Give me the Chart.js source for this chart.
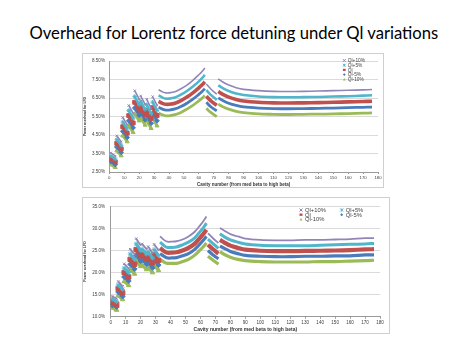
<!DOCTYPE html>
<html><head><meta charset="utf-8">
<script src="https://cdn.jsdelivr.net/npm/chart.js@4.4.0/dist/chart.umd.min.js"></script>
<style>
html,body{margin:0;padding:0;background:#fff;width:474px;height:355px;overflow:hidden;position:relative;}
#title{position:absolute;left:29.5px;top:22px;display:inline-block;white-space:nowrap;font-family:Lato,'Open Sans',sans-serif;font-size:17px;line-height:1;color:#000;}
#bl{display:inline-block;width:0;height:0;}
.frame{position:absolute;border:1px solid #cfcfcf;box-sizing:border-box;background:#fff;}
canvas{position:absolute;}
</style></head><body>
<div id="title">Overhead for Lorentz force detuning under Ql variations<span id="bl"></span></div>
<div class="frame" style="left:82px;top:53px;width:302px;height:135px"></div>
<canvas id="c1" width="300" height="133" style="left:83px;top:54px"></canvas>
<div class="frame" style="left:82px;top:197px;width:308px;height:137px"></div>
<canvas id="c2" width="306" height="135" style="left:83px;top:198px"></canvas>
<script>
// ---- data ----
const seriesNames = ['Ql+10%', 'Ql+5%', 'Ql', 'Ql-5%', 'Ql-10%'];
// cavity numbers (null values in series mark breaks between cavity groups)
const cavity = [1,4,4, 5,8,8, 9,12,12, 13,16,16, 17,20,20, 21,24,24, 25,28,28, 29,32,32,
  33,36,38,40,44,48,52,56,60,62,64,64,
  65,68,72,72,
  73,76,80,85,90,100,110,120,130,140,150,160,170,176];

// Chart 1 (top) values in %
const top_QlP10 = [3.54,3.36,null, 4.46,4.13,null, 5.45,5.06,null, 6.1,5.67,null, 6.9,6.44,null, 6.62,6.16,null, 6.44,5.94,null, 6.58,6.1,null,
  6.95,6.82,6.78,6.78,6.84,7.0,7.2,7.46,7.76,7.92,8.12,null,
  7.26,6.99,6.71,null,
  7.54,7.37,7.2,7.06,6.97,6.9,6.86,6.85,6.86,6.88,6.9,6.92,6.94,6.96];
const top_QlP5 = [3.38,3.2,null, 4.25,3.94,null, 5.2,4.83,null, 5.83,5.41,null, 6.58,6.14,null, 6.32,5.88,null, 6.14,5.67,null, 6.28,5.83,null,
  6.64,6.51,6.47,6.47,6.53,6.68,6.88,7.12,7.4,7.56,7.75,null,
  6.93,6.67,6.4,null,
  7.19,7.04,6.88,6.74,6.66,6.58,6.55,6.54,6.55,6.56,6.58,6.6,6.63,6.65];
const top_Ql = [3.22,3.05,null, 4.05,3.75,null, 4.95,4.6,null, 5.55,5.15,null, 6.27,5.85,null, 6.02,5.6,null, 5.85,5.4,null, 5.98,5.55,null,
  6.32,6.2,6.16,6.16,6.22,6.36,6.55,6.78,7.05,7.2,7.38,null,
  6.6,6.35,6.1,null,
  6.85,6.7,6.55,6.42,6.34,6.27,6.24,6.23,6.24,6.25,6.27,6.29,6.31,6.33];
const top_QlM5 = [3.06,2.9,null, 3.85,3.56,null, 4.7,4.37,null, 5.27,4.89,null, 5.96,5.56,null, 5.72,5.32,null, 5.56,5.13,null, 5.68,5.27,null,
  6.0,5.89,5.85,5.85,5.91,6.04,6.22,6.44,6.7,6.84,7.01,null,
  6.27,6.03,5.8,null,
  6.51,6.37,6.22,6.1,6.02,5.96,5.93,5.92,5.93,5.94,5.96,5.98,6.0,6.01];
const top_QlM10 = [2.9,2.75,null, 3.65,3.38,null, 4.46,4.14,null, 5.0,4.64,null, 5.64,5.27,null, 5.42,5.04,null, 5.27,4.86,null, 5.38,5.0,null,
  5.69,5.58,5.54,5.54,5.6,5.72,5.9,6.1,6.35,6.48,6.64,null,
  5.94,5.72,5.49,null,
  6.17,6.03,5.9,5.78,5.71,5.64,5.62,5.61,5.62,5.63,5.64,5.66,5.68,5.7];

// Chart 2 (bottom) values in %
const bot_QlP10 = [14.6,14.1,null, 18.0,16.9,null, 22.0,20.9,null, 25.3,24.1,null, 27.7,26.2,null, 26.5,25.3,null, 25.9,24.4,null, 26.4,25.1,null,
  28.2,27.3,27.0,27.0,27.1,27.5,28.2,29.2,30.8,31.7,32.7,null,
  28.9,27.9,26.7,null,
  30.1,29.5,28.7,28.2,27.7,27.4,27.3,27.3,27.4,27.4,27.5,27.6,27.8,27.8];
const bot_QlP5 = [14.0,13.4,null, 17.2,16.2,null, 21.0,20.0,null, 24.2,23.0,null, 26.5,25.0,null, 25.3,24.2,null, 24.7,23.3,null, 25.2,23.9,null,
  26.9,26.0,25.7,25.7,25.8,26.3,26.9,27.8,29.4,30.2,31.2,null,
  27.6,26.7,25.5,null,
  28.8,28.1,27.4,26.9,26.5,26.2,26.1,26.1,26.1,26.2,26.3,26.4,26.5,26.6];
const bot_Ql = [13.3,12.8,null, 16.4,15.4,null, 20.0,19.0,null, 23.0,21.9,null, 25.2,23.8,null, 24.1,23.0,null, 23.5,22.2,null, 24.0,22.8,null,
  25.6,24.8,24.5,24.5,24.6,25.0,25.6,26.5,28.0,28.8,29.7,null,
  26.3,25.4,24.3,null,
  27.4,26.8,26.1,25.6,25.2,24.95,24.85,24.85,24.9,24.95,25.0,25.1,25.25,25.3];
const bot_QlM5 = [12.6,12.2,null, 15.6,14.6,null, 19.0,18.1,null, 21.9,20.8,null, 23.9,22.6,null, 22.9,21.9,null, 22.3,21.1,null, 22.8,21.7,null,
  24.3,23.6,23.3,23.3,23.4,23.8,24.3,25.2,26.6,27.4,28.2,null,
  25.0,24.1,23.1,null,
  26.0,25.5,24.8,24.3,23.9,23.7,23.6,23.6,23.7,23.7,23.8,23.8,24.0,24.0];
const bot_QlM10 = [12.0,11.5,null, 14.8,13.9,null, 18.0,17.1,null, 20.7,19.7,null, 22.7,21.4,null, 21.7,20.7,null, 21.2,20.0,null, 21.6,20.5,null,
  23.0,22.3,22.1,22.1,22.1,22.5,23.0,23.9,25.2,25.9,26.7,null,
  23.7,22.9,21.9,null,
  24.7,24.1,23.5,23.0,22.7,22.5,22.4,22.4,22.4,22.5,22.5,22.6,22.7,22.8];

const xAxisTitle = 'Cavity number (from med beta to high beta)';
const yAxisTitle = 'Power overhead for LFD';

// ---- styles ----
const colors = ['#9384b8', '#4fb6cc', '#c0504d', '#4a7cbc', '#9bbb59'];
const pStyles = ['crossRot', 'star', 'rect', 'rectRot', 'triangle'];

// title fit
(function(){
  const t = document.getElementById('title');
  const w = t.getBoundingClientRect().width;
  const fs = 17 * 409 / w;
  t.style.fontSize = fs + 'px';
  const b = document.getElementById('bl').getBoundingClientRect().top;
  const top = t.getBoundingClientRect().top;
  t.style.top = (top + (39 - b)) + 'px';
})();

function drawMarker(ctx, style, x, y, r, color) {
  ctx.save();
  ctx.strokeStyle = color; ctx.fillStyle = color; ctx.lineWidth = 1;
  ctx.beginPath();
  if (style === 'rect') { ctx.fillRect(x - r, y - r * 0.8, 2 * r, 1.6 * r); }
  else if (style === 'rectRot') { ctx.moveTo(x, y - r); ctx.lineTo(x + r, y); ctx.lineTo(x, y + r); ctx.lineTo(x - r, y); ctx.closePath(); ctx.fill(); }
  else if (style === 'triangle') { ctx.moveTo(x, y - r); ctx.lineTo(x + r, y + r * 0.8); ctx.lineTo(x - r, y + r * 0.8); ctx.closePath(); ctx.fill(); }
  else if (style === 'crossRot') { ctx.moveTo(x - r, y - r); ctx.lineTo(x + r, y + r); ctx.moveTo(x + r, y - r); ctx.lineTo(x - r, y + r); ctx.stroke(); }
  else { ctx.moveTo(x - r, y - r); ctx.lineTo(x + r, y + r); ctx.moveTo(x + r, y - r); ctx.lineTo(x - r, y + r); ctx.moveTo(x, y - r); ctx.lineTo(x, y + r); ctx.stroke(); }
  ctx.restore();
}

const inlineLegend = {
  id: 'inlineLegend',
  afterDraw(chart, args, opts) {
    const ctx = chart.ctx;
    ctx.save();
    ctx.font = opts.font;
    ctx.textBaseline = 'middle';
    ctx.textAlign = 'left';
    chart.data.datasets.forEach((ds, i) => {
      const p = opts.items[i];
      drawMarker(ctx, pStyles[i], p[0], p[1], opts.r, ds.borderColor);
      ctx.fillStyle = opts.color;
      ctx.fillText(ds.label, p[0] + opts.gap, p[1] + 0.3);
    });
    ctx.restore();
  }
};

function buildDatasets(seriesList, widths) {
  return seriesList.map((vals, i) => ({
    label: seriesNames[i],
    data: cavity.map((x, j) => ({x: x, y: vals[j]})),
    showLine: true,
    spanGaps: false,
    borderColor: colors[i],
    backgroundColor: colors[i],
    borderWidth: widths[i],
    pointStyle: pStyles[i],
    pointRadius: c => (c.raw && c.raw.y !== null && c.raw.x <= 32) ? widths[i] * 0.6 + 0.6 : 0,
    pointBorderWidth: 1,
    pointBorderColor: colors[i],
    pointBackgroundColor: colors[i],
    tension: 0.3
  }));
}

function makeChart(id, seriesList, o) {
  return new Chart(document.getElementById(id), {
    type: 'scatter',
    data: { datasets: buildDatasets(seriesList, o.widths) },
    options: {
      responsive: false, animation: false, devicePixelRatio: 1,
      layout: { padding: { top: o.padTop, right: o.padRight, left: 0, bottom: 0 } },
      plugins: { legend: { display: false }, tooltip: { enabled: false }, inlineLegend: o.legend },
      scales: {
        x: {
          type: 'linear', min: 0, max: 180,
          afterFit: s => { s.height = o.xh; },
          ticks: { stepSize: 10, autoSkip: false, maxRotation: 0, padding: 1, color: '#404040', font: { family: 'Liberation Sans, Arial', size: o.xtick } },
          grid: { display: true, drawOnChartArea: false, drawTicks: true, tickLength: 2, color: '#9a9a9a' },
          border: { display: true, color: '#9a9a9a', width: 1 },
          title: { display: true, text: xAxisTitle, color: '#333', padding: { top: 0, bottom: 0 }, font: { family: 'Liberation Sans, Arial', size: o.xtitle, weight: 'bold' } }
        },
        y: {
          type: 'linear', min: o.ymin, max: o.ymax,
          afterFit: s => { s.width = o.yw; },
          ticks: { stepSize: o.ystep, padding: o.ypad, color: '#404040', font: { family: 'Liberation Sans, Arial', size: o.ytick }, callback: v => v.toFixed(o.dec) + '%' },
          grid: { color: '#dadada', lineWidth: 1, drawTicks: false },
          border: { display: true, color: '#9a9a9a', width: 1 },
          title: { display: true, text: yAxisTitle, color: '#333', padding: { top: 0, bottom: 0 }, font: { family: 'Liberation Sans, Arial', size: o.ytitle, weight: 'bold' } }
        }
      }
    },
    plugins: [inlineLegend]
  });
}

makeChart('c1', [top_QlP10, top_QlP5, top_Ql, top_QlM5, top_QlM10], {
  widths: [1.6, 2.6, 3.6, 2.8, 2.8],
  padTop: 5, padRight: 4, xh: 15, yw: 26.3,
  ymin: 2.5, ymax: 8.5, ystep: 1, dec: 2, ypad: 4.3,
  xtick: 4.3, ytick: 4.6, xtitle: 4.5, ytitle: 3.4,
  legend: { font: '4.8px "Liberation Sans", Arial', color: '#444', r: 1.4, gap: 3.5,
    items: [[261.3, 6.5], [261.3, 11.2], [261.3, 15.9], [261.3, 20.6], [261.3, 25.3]] }
});

makeChart('c2', [bot_QlP10, bot_QlP5, bot_Ql, bot_QlM5, bot_QlM10], {
  widths: [1.8, 3.0, 4.2, 3.2, 3.2],
  padTop: 6.3, padRight: 9, xh: 16.3, yw: 27.7,
  ymin: 10, ymax: 35, ystep: 5, dec: 1, ypad: 5.7,
  xtick: 4.6, ytick: 4.5, xtitle: 5, ytitle: 3.5,
  legend: { font: '5.8px "Liberation Sans", Arial', color: '#444', r: 1.5, gap: 4,
    items: [[218, 12], [258.7, 12], [218, 16.7], [258.7, 16.7], [218, 21.4]] }
});
</script>
</body></html>
